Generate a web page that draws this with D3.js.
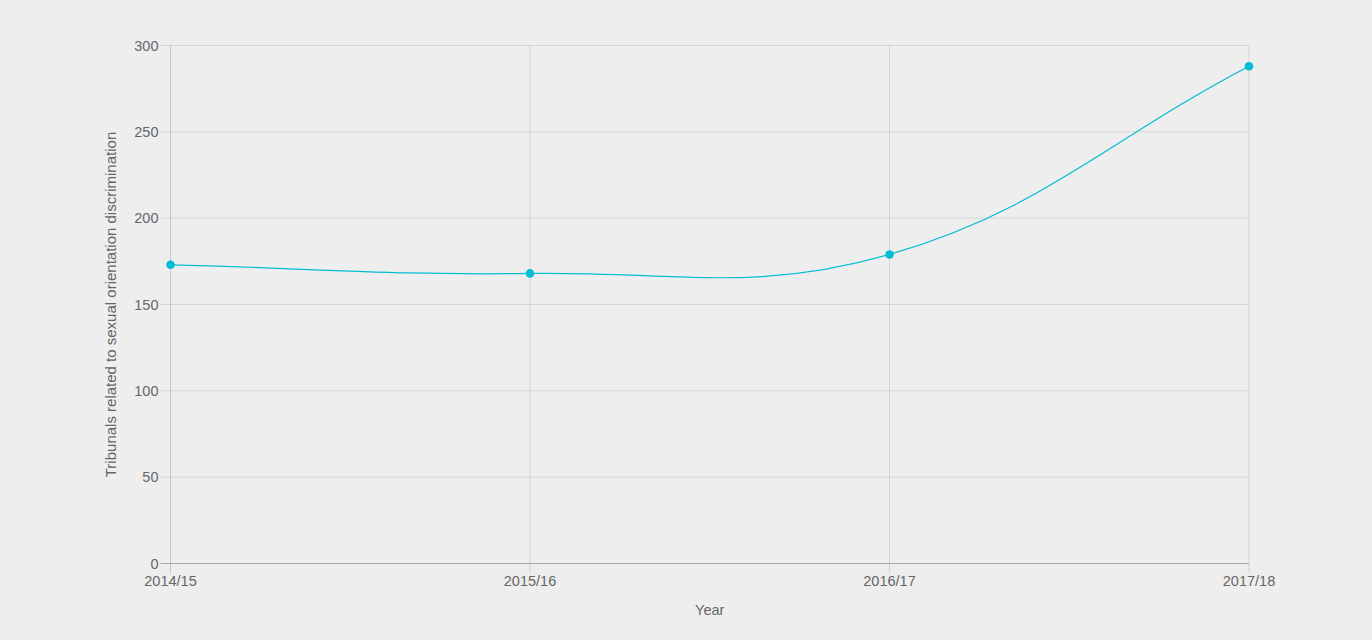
<!DOCTYPE html>
<html>
<head>
<meta charset="utf-8">
<script src="https://cdn.jsdelivr.net/npm/d3@7"></script>
<style>
  body { margin: 0; background: #eeeeee; }
  svg { display: block; font-family: "Liberation Sans", Arial, Helvetica, sans-serif; }
</style>
</head>
<body>
<svg class="container" width="1372" height="640"></svg>
<script>
let years = ["2014/15", "2015/16", "2016/17", "2017/18"];
let tribunals = [173, 168, 179, 288];
let yTicks = [0, 50, 100, 150, 200, 250, 300];

let plotLeft = 170.5, plotRight = 1249, plotTop = 45.5, plotBottom = 563.5;
let tension = 0.4;
let lineColor = "#00bcd4";
let fontSize = "14.5px";

let svg = d3.select(".container");

let x = d3.scalePoint().domain(years).range([plotLeft, plotRight]);
let y = d3.scaleLinear().domain([0, 300]).range([plotBottom, plotTop]);

// horizontal grid + y ticks
svg.append("g")
    .selectAll("line")
    .data(yTicks)
    .enter()
    .append("line")
    .attr("x1", plotLeft - 10)
    .attr("x2", plotRight)
    .attr("y1", d => y(d))
    .attr("y2", d => y(d))
    .style("stroke", d => d == 0 ? "rgba(0,0,0,0.3)" : "rgba(0,0,0,0.1)")
    .style("stroke-width", 1);

// vertical grid + x ticks
svg.append("g")
    .selectAll("line")
    .data(years)
    .enter()
    .append("line")
    .attr("x1", d => x(d))
    .attr("x2", d => x(d))
    .attr("y1", plotTop)
    .attr("y2", plotBottom + 10)
    .style("stroke", (d, i) => i == 0 ? "rgba(0,0,0,0.16)" : "rgba(0,0,0,0.1)")
    .style("stroke-width", 1);

svg.append("g")
    .selectAll("text")
    .data(yTicks)
    .enter()
    .append("text")
    .attr("x", plotLeft - 12)
    .attr("y", d => y(d))
    .attr("dy", "0.35em")
    .attr("text-anchor", "end")
    .style("font-size", fontSize)
    .style("fill", "#666")
    .text(d => d);

svg.append("g")
    .selectAll("text")
    .data(years)
    .enter()
    .append("text")
    .attr("x", d => x(d))
    .attr("y", plotBottom + 22)
    .attr("text-anchor", "middle")
    .style("font-size", fontSize)
    .style("fill", "#666")
    .text(d => d);

svg.append("text")
    .attr("x", (plotLeft + plotRight) / 2)
    .attr("y", 615)
    .attr("text-anchor", "middle")
    .style("font-size", fontSize)
    .style("fill", "#666")
    .text("Year");

svg.append("text")
    .attr("transform", "translate(116," + ((plotTop + plotBottom) / 2) + ") rotate(-90)")
    .attr("text-anchor", "middle")
    .style("font-size", "15px")
    .style("fill", "#666")
    .text("Tribunals related to sexual orientation discrimination");

// spline like chart.js (tension 0.4)
function splinePath(pts) {
    let ctrl = pts.map((p, i) => {
        let prev = pts[i - 1] || p;
        let next = pts[i + 1] || p;
        let d01 = Math.hypot(p[0] - prev[0], p[1] - prev[1]);
        let d12 = Math.hypot(next[0] - p[0], next[1] - p[1]);
        let s01 = d01 / (d01 + d12) || 0;
        let s12 = d12 / (d01 + d12) || 0;
        let fa = tension * s01, fb = tension * s12;
        return {
            prev: [p[0] - fa * (next[0] - prev[0]), p[1] - fa * (next[1] - prev[1])],
            next: [p[0] + fb * (next[0] - prev[0]), p[1] + fb * (next[1] - prev[1])]
        };
    });
    let path = d3.path();
    path.moveTo(pts[0][0], pts[0][1]);
    for (let i = 1; i < pts.length; i++) {
        let c1 = ctrl[i - 1].next, c2 = ctrl[i].prev;
        path.bezierCurveTo(c1[0], c1[1], c2[0], c2[1], pts[i][0], pts[i][1]);
    }
    return path.toString();
}

let points = years.map((d, i) => [x(d), y(tribunals[i])]);

svg.append("path")
    .attr("d", splinePath(points))
    .style("fill", "none")
    .style("stroke", lineColor)
    .style("stroke-width", 1.2);

svg.append("g")
    .selectAll("circle")
    .data(points)
    .enter()
    .append("circle")
    .attr("cx", d => d[0])
    .attr("cy", d => d[1])
    .attr("r", 4.3)
    .style("fill", lineColor);
</script>
</body>
</html>
